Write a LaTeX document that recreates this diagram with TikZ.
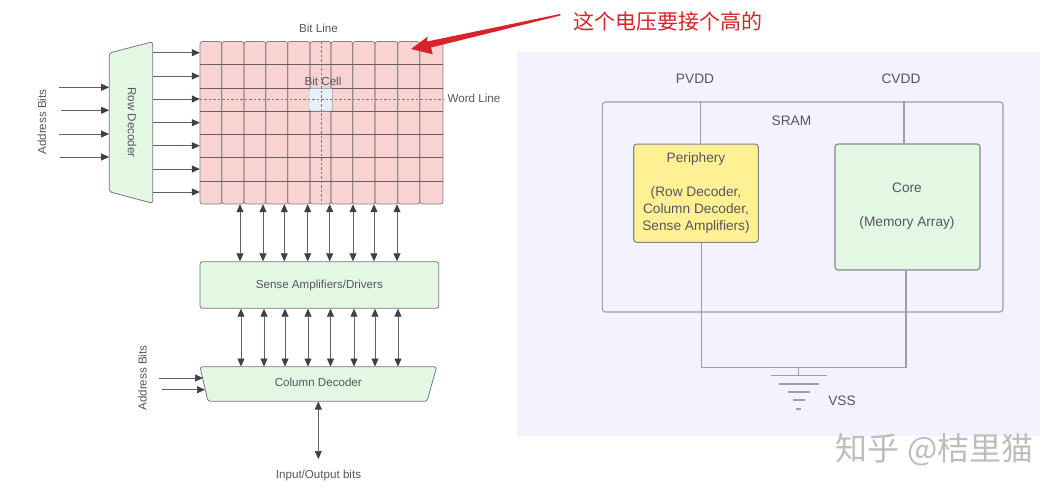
\documentclass[tikz,border=0pt]{standalone}
\usepackage{fontspec}
\setmainfont{Liberation Sans}
\newfontfamily\cjk{Noto Sans CJK SC}
\usetikzlibrary{arrows.meta}
\usetikzlibrary{calc}

\definecolor{inkgray}{HTML}{55555F}
\definecolor{linegray}{HTML}{5F5F69}
\definecolor{tipgray}{HTML}{3F3F48}
\definecolor{wiregray}{HTML}{9C9CAA}
\definecolor{cellpink}{HTML}{F9D2D2}
\definecolor{cellline}{HTML}{6B5C60}
\definecolor{cellblue}{HTML}{E6F0FB}
\definecolor{blockgreen}{HTML}{E3F8E3}
\definecolor{blockyellow}{HTML}{FFF193}
\definecolor{panelblue}{HTML}{F3F3FF}
\definecolor{notered}{HTML}{D8232A}
\definecolor{markgray}{HTML}{BDBDBD}

\tikzset{
  txt/.style={text=inkgray, font=\fontsize{11.6}{14}\selectfont, inner sep=0pt},
  bigtxt/.style={text=inkgray, font=\fontsize{13.7}{17}\selectfont, inner sep=0pt, align=center},
  oneway/.style={draw=linegray, line width=0.7pt, -{Triangle[length=8pt,width=7pt,color=tipgray]}},
  twoway/.style={draw=linegray, line width=0.7pt, {Triangle[length=8pt,width=7pt,color=tipgray]}-{Triangle[length=8pt,width=7pt,color=tipgray]}},
  greenblock/.style={draw=linegray!85, fill=blockgreen, line width=0.8pt, rounded corners=2.5, inner sep=0pt},
  wire/.style={draw=wiregray, line width=1.1pt},
  dashline/.style={draw=cellline!85, line width=0.5pt, dash pattern=on 2.5pt off 2pt},
}

\begin{document}
\begin{tikzpicture}[x=1,y=-1]
\useasboundingbox (0,0) rectangle (1061,493);

% memory array
\fill[cellpink, rounded corners=2.5] (200,41.5) rectangle (443,204);
\foreach \l/\r in {200/221.7, 221.7/244, 244/265.7, 265.7/287.7, 287.7/310, 310/331, 331/352.7, 352.7/375, 375/397.7, 397.7/419.7, 419.7/443}
  \draw[draw=cellline!80, line width=0.7pt, rounded corners=2.5] (\l,41.5) rectangle (\r,204);
\foreach \y in {64.3, 88, 111, 134, 157, 181}
  \draw[draw=cellline, line width=0.7pt] (200,\y) -- (443,\y);
\node[minimum width=243, minimum height=162.5, inner sep=0pt] (array) at (321.5,122.75) {};

\node[draw=linegray!60, fill=cellblue, rounded corners=2.5, minimum width=23.7, minimum height=22.7, inner sep=0pt] (bitcell) at (320.8,99.7) {};
\draw[dashline] (array.west |- bitcell) -- (array.east |- bitcell);
\draw[dashline] (array.north -| bitcell) -- (array.south -| bitcell);

\node[txt] (bitline) at (318.5,28) {Bit Line};
\node[txt] (bitcelltext) at (323,81) {Bit Cell};
\node[txt] (wordline) at (474,98.5) {Word Line};

% row decoder
\draw[greenblock] (109.3,53) -- (152.7,41.7) -- (152.7,203.3) -- (109.3,191.7) -- cycle;
\node[minimum width=43.4, minimum height=161.6, inner sep=0pt] (rowdec) at (131,122.5) {};
\node[txt, rotate=-90] (rowtext) at (132,122.5) {Row Decoder};
\foreach \y in {52.7, 76, 99, 122.7, 145.7, 169, 192}
  \draw[oneway] (rowdec.east |- 0,\y) -- (array.west |- 0,\y);

\node[txt, rotate=90] (addrrow) at (42,122) {Address Bits};
\foreach \i/\s/\y in {a/59/87.3, b/61/110.3, c/59/134, d/60/157} {
  \coordinate (row\i) at (\s,\y);
  \draw[oneway] (row\i) -- (rowdec.west |- row\i);
}

% sense amplifiers
\node[greenblock, minimum width=238.7, minimum height=46.6, txt] (sense) at (319.35,285) {Sense Amplifiers/Drivers};
\foreach \x in {240, 263, 284.3, 307.7, 329.7, 353, 374, 397}
  \draw[twoway] (\x,0 |- array.south) -- (\x,0 |- sense.north);

% column decoder
\draw[greenblock] (200,366.7) -- (436.7,366.7) -- (427,401.3) -- (208,401.3) -- cycle;
\node[txt, minimum width=227, minimum height=34.6] (coldec) at (318.3,384) {};
\node[txt] (coltext) at (318.3,382) {Column Decoder};
\foreach \x in {241, 264, 285, 308, 330.5, 354, 375, 398}
  \draw[twoway] (\x,0 |- sense.south) -- (\x,0 |- coldec.north);

\node[txt, rotate=90] (addrcol) at (142.5,378) {Address Bits};
\coordinate (cola) at (159,378);
\coordinate (colb) at (162,389.7);
\coordinate (colaend) at (203,378);
\coordinate (colbend) at (205,389.7);
\draw[oneway] (cola) -- (colaend);
\draw[oneway] (colb) -- (colbend);

\node[txt] (iobits) at (318.5,475.5) {Input/Output bits};
\coordinate (ioend) at (318.3,459);
\draw[twoway] (coldec.south) -- (ioend);

% note
\fill[notered] (411,49) -- (427.7,36.7) -- (427,41.5) -- (560,14) -- (560.5,15.5) -- (431,47.5) -- (432.7,54.3) -- cycle;
\node[text=notered, font=\cjk\fontsize{21}{24}\selectfont, inner sep=0pt, anchor=west] (note) at (573,21) {这个电压要接个高的};

% power panel
\fill[panelblue] (517,52) rectangle (1040,435.5);
\node[draw=wiregray, line width=1.1pt, rounded corners=3, minimum width=400.7, minimum height=210, inner sep=0pt] (sram) at (802.65,207) {};
\node[draw=wiregray!85!black, fill=blockyellow, line width=1.1pt, rounded corners=3, minimum width=124.6, minimum height=98.3, inner sep=0pt] (periph) at (696,193.2) {};
\node[draw=wiregray!85!black, fill=blockgreen, line width=1.1pt, rounded corners=3, minimum width=145, minimum height=126, inner sep=0pt] (core) at (907.5,207) {};

\node[bigtxt] (srambl) at (791.5,120.8) {SRAM};
\node[bigtxt] (pvdd) at (695,79) {PVDD};
\node[bigtxt] (cvdd) at (901,79) {CVDD};
\node[bigtxt] (vss) at (842,400.6) {VSS};
\node[bigtxt] (periphtext) at (696,192.5) {Periphery\\[17pt](Row Decoder,\\Column Decoder,\\Sense Amplifiers)};
\node[bigtxt] (coretext) at (907,206.5) {Core\\[17pt](Memory Array)};

\coordinate (pbus) at (701.7,367.7);
\coordinate (cbus) at (906,367.7);
\coordinate (gnd) at (798.3,367.7);
\coordinate (gndtop) at (798.3,375.7);
\draw[wire] (sram.north -| 700.3,0) -- (periph.north -| 700.3,0);
\draw[wire] (sram.north -| 904,0) -- (core.north -| 904,0);
\draw[wire] (periph.south -| pbus) -- (pbus) -- (cbus) -- (core.south -| cbus);
\draw[wire] (gnd) -- (gndtop);
\foreach \y/\l/\r in {375.7/770.7/827, 384/779/818.7, 392/788/810, 400/793/805, 409/796/801}
  \draw[wire] (\l,\y) -- (\r,\y);

\node[text=markgray, font=\cjk\fontsize{32}{36}\selectfont, inner sep=0pt, anchor=west] (mark) at (835,450) {知乎\hspace{8pt}@桔里猫};
\end{tikzpicture}
\end{document}
